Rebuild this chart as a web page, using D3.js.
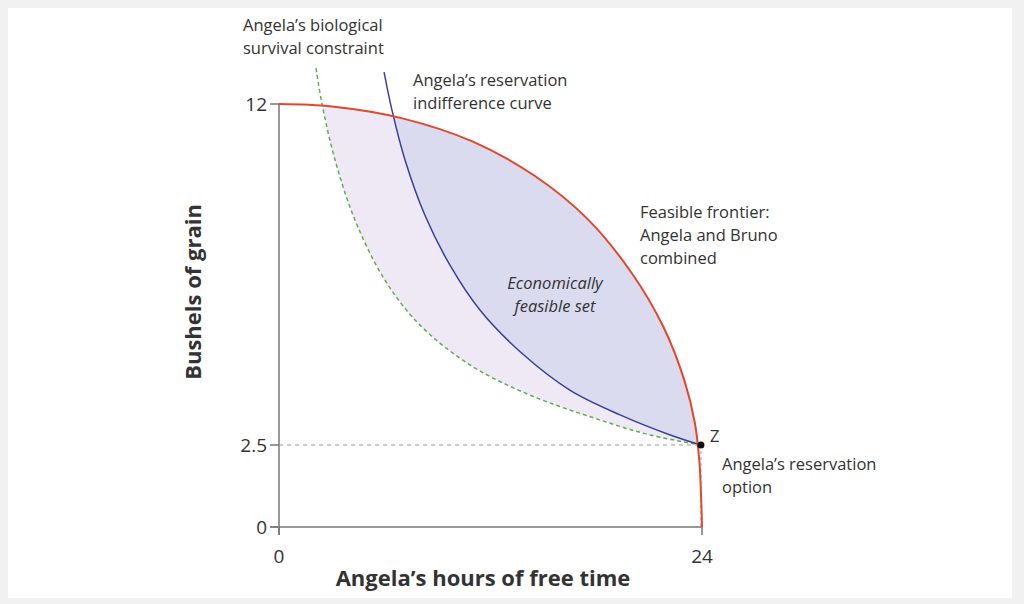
<!DOCTYPE html><html><head><meta charset="utf-8">
<script src="https://cdn.jsdelivr.net/npm/d3@7"></script>
<style>body{margin:0;background:#f1f1f1}svg{display:block}</style></head><body>
<svg id="c" width="1024" height="604"></svg>
<script>
const frontierX=[0,3,7,11,14.5,17.5,20,21.8,23,23.6,23.85,23.95,24];
const frontierY=[12,11.93,11.6,10.95,10.0,8.8,7.3,5.8,4.3,3.1,2.0,0.9,0];
const indiffX=[5.96,6.41,7.15,8.28,9.7,11.4,13.7,16.5,19.35,22.2,23.94];
const indiffY=[12.89,11.83,10.44,8.9,7.51,6.26,5.09,4.03,3.34,2.78,2.5];
const survX=[2.1,2.44,3.18,4.31,6.0,8.0,10.84,14.24,18.2,21.05,23.94];
const survY=[13.0,12.0,10.44,8.77,7.1,5.84,4.73,3.89,3.2,2.78,2.5];
const xTicks=[0,24], yTicks=[0,2.5,12];
const Z=[23.94,2.5];

const svg=d3.select("#c");
svg.append("rect").attr("x",8).attr("y",8).attr("width",1004).attr("height",590).attr("fill","#fff");
const x=d3.scaleLinear().domain([0,24]).range([279,702]);
const y=d3.scaleLinear().domain([0,2.5,12]).range([527,445,104]);
const z=(a,b)=>a.map((v,i)=>[v,b[i]]);
const fr=z(frontierX,frontierY), ind=z(indiffX,indiffY), sv=z(survX,survY);
const lineC=d3.line().x(d=>x(d[0])).y(d=>y(d[1])).curve(d3.curveCatmullRom);
const lineF=d3.line().x(d=>x(d[0])).y(d=>y(d[1])).curve(d3.curveCatmullRom.alpha(0.5));
const defs=svg.append("defs");
defs.append("clipPath").attr("id","under").append("path")
  .attr("d",lineF(fr)+`L${x(0)},${y(0)}Z`);
function above(pts){return lineC(pts)+`L${x(30)},${y(2.5)}L${x(30)},${y(14)}L${x(pts[0][0])},${y(14)}Z`;}
svg.append("path").attr("d",above(sv)).attr("fill","#efe9f6").attr("clip-path","url(#under)");
svg.append("path").attr("d",above(ind)).attr("fill","#dadbef").attr("clip-path","url(#under)");

const g=svg.append("g").attr("font-family","Open Sans, sans-serif");
g.append("line").attr("x1",270).attr("x2",x(24)).attr("y1",y(0)).attr("y2",y(0)).attr("stroke","#777").attr("stroke-width",1.5);
g.append("line").attr("x1",x(0)).attr("x2",x(0)).attr("y1",y(0)+8).attr("y2",y(12)).attr("stroke","#777").attr("stroke-width",1.5);
yTicks.forEach(t=>{
  g.append("line").attr("x1",270).attr("x2",x(0)).attr("y1",y(t)).attr("y2",y(t)).attr("stroke","#777").attr("stroke-width",1.5);
  g.append("text").attr("x",267).attr("y",y(t)+7).attr("text-anchor","end").attr("font-size",19).attr("fill","#333").text(t);
});
xTicks.forEach(t=>{
  g.append("line").attr("x1",x(t)).attr("x2",x(t)).attr("y1",y(0)).attr("y2",y(0)+8).attr("stroke","#777").attr("stroke-width",1.5);
  g.append("text").attr("x",x(t)).attr("y",y(0)+36).attr("text-anchor","middle").attr("font-size",19).attr("fill","#333").text(t);
});
g.append("line").attr("x1",x(0)).attr("x2",x(Z[0])).attr("y1",y(2.5)).attr("y2",y(2.5)).attr("stroke","#999").attr("stroke-dasharray","4,4");
g.append("line").attr("x1",x(Z[0])).attr("x2",x(Z[0])).attr("y1",y(2.5)).attr("y2",y(0)).attr("stroke","#99a").attr("stroke-dasharray","3,3");

svg.append("path").attr("d",lineC(sv)).attr("fill","none").attr("stroke","#5fae4e").attr("stroke-width",1.5).attr("stroke-dasharray","4,3");
svg.append("path").attr("d",lineC(ind)).attr("fill","none").attr("stroke","#3a3f98").attr("stroke-width",1.5);
svg.append("path").attr("d",lineF(fr)).attr("fill","none").attr("stroke","#e2472b").attr("stroke-width",2);
svg.append("circle").attr("cx",x(Z[0])).attr("cy",y(Z[1])).attr("r",3.5).attr("fill","#111");

const T=(tx,ty,lines,o={})=>{const t=g.append("text").attr("x",tx).attr("y",ty).attr("font-size",o.s||16.5).attr("fill","#333")
  .attr("font-style",o.i?"italic":null).attr("text-anchor",o.a||"start");
  lines.forEach((l,i)=>t.append("tspan").attr("x",tx).attr("dy",i?(o.lh||23):0).text(l));};
T(243,31,["Angela’s biological","survival constraint"]);
T(413,86,["Angela’s reservation","indifference curve"]);
T(640,218,["Feasible frontier:","Angela and Bruno","combined"]);
T(555,289,["Economically","feasible set"],{i:1,a:"middle"});
T(710,442,["Z"]);
T(722,470,["Angela’s reservation","option"]);
g.append("text").attr("x",483).attr("y",586).attr("text-anchor","middle").attr("font-size",22).attr("font-weight","bold").attr("fill","#333").text("Angela’s hours of free time");
g.append("text").attr("transform","translate(201,292) rotate(-90)").attr("text-anchor","middle").attr("font-size",22).attr("font-weight","bold").attr("fill","#333").text("Bushels of grain");
</script></body></html>
